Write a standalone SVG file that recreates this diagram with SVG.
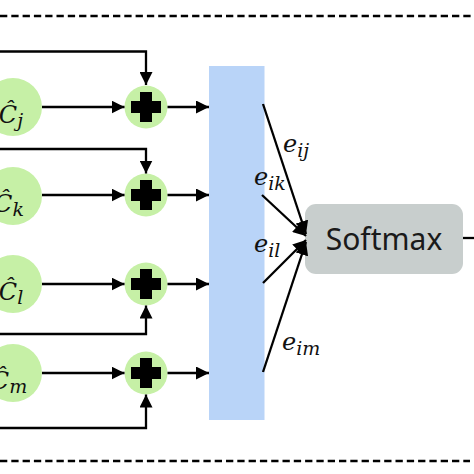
<svg xmlns="http://www.w3.org/2000/svg" width="474" height="474" viewBox="0 0 474 474">
<defs>
<marker id="ah" markerUnits="userSpaceOnUse" markerWidth="13" markerHeight="13" refX="12" refY="6" orient="auto" viewBox="0 0 12 12">
<path d="M0,0 L12,6 L0,12 z" fill="#000"/>
</marker>
</defs>
<style>
.dash{stroke:#000;stroke-width:2.3;stroke-dasharray:7.3 4;fill:none}
.c{fill:#c6f0a6}
.ln{stroke:#000;stroke-width:2.3;fill:none}
.ar{stroke:#000;stroke-width:2.3;fill:none;marker-end:url(#ah)}
.m{font-family:"DejaVu Serif",serif;font-style:italic;fill:#111}
.big{font-size:24px}
.sub{font-size:19px}
.lab{font-family:"Noto Sans","Open Sans",sans-serif;font-size:30px;fill:#1a1a1a}
</style>
<rect width="474" height="474" fill="#fff"/>
<line class="dash" x1="0" y1="16" x2="474" y2="16"/>
<line class="dash" x1="0" y1="461" x2="470" y2="461"/>

<g id="bar"><rect x="209" y="66" width="55.5" height="354" fill="#b9d4f8"/></g>

<g id="cj"><circle class="c" cx="13" cy="107" r="29"/><text class="m big" x="11" y="123" text-anchor="middle">Ĉ<tspan class="sub" dy="4">j</tspan></text></g>
<g id="ck"><circle class="c" cx="13" cy="196" r="29"/><text class="m big" x="9" y="212" text-anchor="middle">Ĉ<tspan class="sub" dy="4">k</tspan></text></g>
<g id="cl"><circle class="c" cx="13" cy="284" r="29"/><text class="m big" x="11" y="300" text-anchor="middle">Ĉ<tspan class="sub" dy="4">l</tspan></text></g>
<g id="cm"><circle class="c" cx="13" cy="373" r="29"/><text class="m big" x="9" y="389" text-anchor="middle">Ĉ<tspan class="sub" dy="4">m</tspan></text></g>

<g id="pj"><circle class="c" cx="146" cy="107" r="21.5"/><path d="M131,101 h9 v-9 h12 v9 h9 v12 h-9 v9 h-12 v-9 h-9 z" fill="#000"/></g>
<g id="pk"><circle class="c" cx="146" cy="195" r="21.5"/><path d="M131,189 h9 v-9 h12 v9 h9 v12 h-9 v9 h-12 v-9 h-9 z" fill="#000"/></g>
<g id="pl"><circle class="c" cx="146" cy="284" r="21.5"/><path d="M131,278 h9 v-9 h12 v9 h9 v12 h-9 v9 h-12 v-9 h-9 z" fill="#000"/></g>
<g id="pm"><circle class="c" cx="146" cy="373" r="21.5"/><path d="M131,367 h9 v-9 h12 v9 h9 v12 h-9 v9 h-12 v-9 h-9 z" fill="#000"/></g>

<g id="softmax"><rect x="305" y="204" width="158" height="70" rx="11" fill="#c8cecd"/><text class="lab" x="384" y="250" text-anchor="middle">Softmax</text></g>

<g id="connectors">
<polyline class="ar" points="0,51.5 146,51.5 146,85"/>
<polyline class="ar" points="0,149 146,149 146,173.5"/>
<polyline class="ar" points="0,334 146,334 146,305.5"/>
<polyline class="ar" points="0,428 146,428 146,394.5"/>
<line class="ar" x1="42" y1="107" x2="124.5" y2="107"/>
<line class="ar" x1="42" y1="195" x2="124.5" y2="195"/>
<line class="ar" x1="42" y1="284" x2="124.5" y2="284"/>
<line class="ar" x1="42" y1="373" x2="124.5" y2="373"/>
<line class="ar" x1="167.5" y1="107" x2="209" y2="107"/>
<line class="ar" x1="167.5" y1="195" x2="209" y2="195"/>
<line class="ar" x1="167.5" y1="284" x2="209" y2="284"/>
<line class="ar" x1="167.5" y1="373" x2="209" y2="373"/>
<line class="ar" x1="263" y1="104" x2="306" y2="234"/>
<line class="ar" x1="262" y1="195" x2="306" y2="236"/>
<line class="ar" x1="263" y1="283" x2="306" y2="240"/>
<line class="ar" x1="263" y1="372" x2="306" y2="242"/>
<line class="ln" x1="463" y1="238" x2="474" y2="238"/>
</g>

<g id="labels">
<text class="m big" x="283" y="152">e<tspan class="sub" dy="5">ij</tspan></text>
<text class="m big" x="254" y="185">e<tspan class="sub" dy="5">ik</tspan></text>
<text class="m big" x="254" y="252">e<tspan class="sub" dy="5">il</tspan></text>
<text class="m big" x="282" y="350">e<tspan class="sub" dy="5">im</tspan></text>
</g>
</svg>
